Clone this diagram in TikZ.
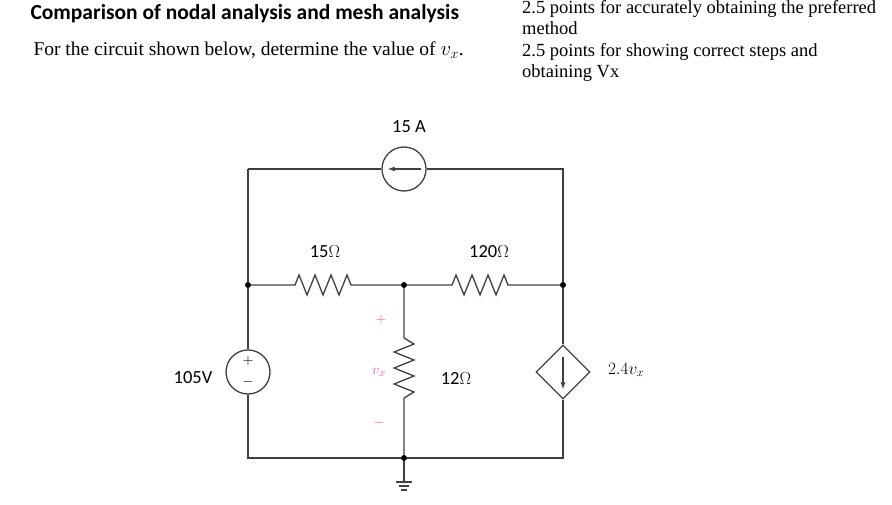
\documentclass[tikz,border=0pt]{standalone}
\usepackage{fontspec}
\usetikzlibrary{shapes.geometric}
\setmainfont{Liberation Serif}
\newfontfamily\calfont{Carlito}
\begin{document}
\begin{tikzpicture}[x=1pt,y=-1pt,
  w/.style={line width=1.3pt,black!75},
  dot/.style={circle,fill=black,inner sep=0pt,minimum size=6pt},
  lab/.style={font=\calfont\fontsize{18.5}{22}\selectfont},
  pk/.style={text=magenta!70,font=\fontsize{15}{17}\selectfont}]
\useasboundingbox (0,0) rectangle (892,505);
\node[anchor=west,font=\calfont\bfseries\fontsize{21.5}{25}\selectfont] (t) at (27,14) {Comparison of nodal analysis and mesh analysis};
\node[anchor=west,font=\fontsize{19.5}{22}\selectfont] (q) at (30,50) {For the circuit shown below, determine the value of $v_x$.};
\node[anchor=north west,align=left,font=\fontsize{18.5}{21.5}\selectfont,inner sep=0pt] (p) at (522,0) {2.5 points for accurately obtaining the preferred\\method\\2.5 points for showing correct steps and\\obtaining Vx};
\coordinate (TL) at (248,169); \coordinate (TR) at (563,169);
\node[dot] (A) at (248,285) {};
\node[dot] (B) at (404,285) {};
\node[dot] (C) at (563,285) {};
\node[dot] (G) at (404,458) {};
\coordinate (BL) at (248,458); \coordinate (BR) at (563,458);
\node[circle,draw,w,minimum size=44pt,inner sep=0pt] (I) at (404,169) {};
\node[circle,draw,w,minimum size=44pt,inner sep=0pt] (V) at (248,372) {};
\node[diamond,draw,w,minimum size=54pt,inner sep=0pt] (D) at (563,372) {};
\draw[w] (TL) -- (I) -- (TR) -- (C) -- (D) -- (BR) -- (G) -- (BL) -- (V) -- (A) -- (TL);
\draw[w,-latex] (421,169) -- (388,169);
\draw[w,-latex] (563,357) -- (563,389);
\node[font=\fontsize{14}{14}\selectfont] at (248,361) {$+$};
\node[font=\fontsize{14}{14}\selectfont] at (248,382) {$-$};
\draw[w] (A) -- (295,285) -- (299,275) -- (307,295) -- (315,275) -- (323,295) -- (331,275) -- (339,295) -- (347,275) -- (351,285) -- (B);
\draw[w] (B) -- (452,285) -- (456,275) -- (464,295) -- (472,275) -- (480,295) -- (488,275) -- (496,295) -- (504,275) -- (508,285) -- (C);
\draw[w] (B) -- (404,338) -- (414,344) -- (394,352) -- (414,360) -- (394,368) -- (414,376) -- (394,384) -- (414,392) -- (404,398) -- (G);
\coordinate (g0) at (404,482);
\draw[w] (G) -- (g0);
\draw[w] (396,482) -- (412,482) (399,486) -- (409,486) (401,490) -- (407,490);
\node[lab] (l1) at (409,127) {15 A};
\node[lab] (l2) at (325,252) {15$\Omega$};
\node[lab] (l3) at (489,252) {120$\Omega$};
\node[lab] (l4) at (456,378) {12$\Omega$};
\node[lab] (l5) at (193,378) {105V};
\node[font=\fontsize{18}{20}\selectfont] (l6) at (626,370) {$2.4v_x$};
\node[pk] at (381,320) {$+$};
\node[pk] at (379,372) {$v_x$};
\node[pk] at (379,423) {$-$};
\end{tikzpicture}
\end{document}
